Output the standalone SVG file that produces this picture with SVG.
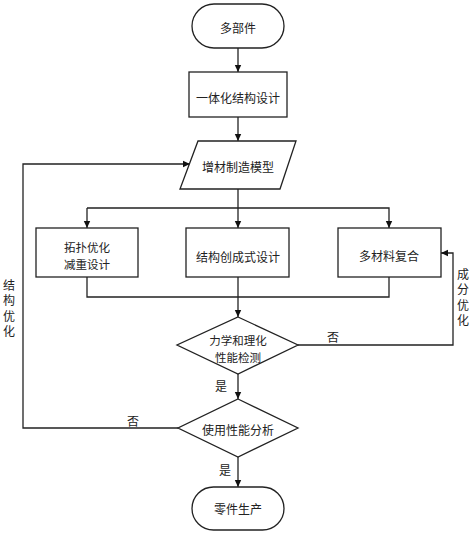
<svg xmlns="http://www.w3.org/2000/svg" width="474" height="535" viewBox="0 0 474 535">
<style>
.s{fill:#fff;stroke:#222;stroke-width:1.3}
.c{fill:none;stroke:#222;stroke-width:1.3}
text{font-family:"Noto Sans CJK SC","Liberation Sans",sans-serif;font-size:12px;fill:#222;text-anchor:middle;dominant-baseline:central}
.v{writing-mode:vertical-rl;letter-spacing:3.5px}
.t{font-size:11.5px}
</style>
<defs>
<marker id="a" markerWidth="8" markerHeight="8" refX="7" refY="4" orient="auto" markerUnits="userSpaceOnUse">
<path d="M0,0.8 L7,4 L0,7.2 Z" fill="#111"/>
</marker>
</defs>
<rect width="474" height="535" fill="#fff"/>
<g id="connectors">
<path class="c" d="M238,48 V72" marker-end="url(#a)"/>
<path class="c" d="M238,117 V141" marker-end="url(#a)"/>
<path class="c" d="M238,189 V228" marker-end="url(#a)"/>
<path class="c" d="M87,208 H389 V228" marker-end="url(#a)"/>
<path class="c" d="M87,208 V228" marker-end="url(#a)"/>
<path class="c" d="M87,277 V297 H389 V277"/>
<path class="c" d="M238,277 V317" marker-end="url(#a)"/>
<path class="c" d="M298,345 H453 V253 H441" marker-end="url(#a)"/>
<path class="c" d="M238,374 V399" marker-end="url(#a)"/>
<path class="c" d="M178,428 H23 V164 H190" marker-end="url(#a)"/>
<path class="c" d="M238,457 V487" marker-end="url(#a)"/>
<text x="333" y="336">否</text>
<text x="221" y="385">是</text>
<text x="133" y="420">否</text>
<text x="225" y="469">是</text>
<text class="v" x="463" y="299">成分优化</text>
<text class="v" x="9" y="310">结构优化</text>
</g>
<g id="start">
<rect class="s" x="192" y="4" width="92" height="44" rx="22"/>
<text x="238" y="27">多部件</text>
</g>
<g id="integrated">
<rect class="s" x="189" y="72" width="98" height="45"/>
<text x="238" y="97">一体化结构设计</text>
</g>
<g id="am-model">
<polygon class="s" points="198,141 296,141 280,189 180,189"/>
<text x="238" y="166">增材制造模型</text>
</g>
<g id="topo">
<rect class="s" x="36" y="228" width="102" height="49"/>
<text class="t" x="87" y="247">拓扑优化</text>
<text class="t" x="87" y="264">减重设计</text>
</g>
<g id="generative">
<rect class="s" x="186" y="228" width="103" height="49"/>
<text x="238" y="256">结构创成式设计</text>
</g>
<g id="multimat">
<rect class="s" x="338" y="228" width="103" height="49"/>
<text x="389" y="255">多材料复合</text>
</g>
<g id="test">
<polygon class="s" points="238,317 298,345 238,374 177,345"/>
<text class="t" x="238" y="340">力学和理化</text>
<text class="t" x="238" y="357">性能检测</text>
</g>
<g id="analysis">
<polygon class="s" points="238,399 298,428 238,457 178,428"/>
<text x="238" y="429">使用性能分析</text>
</g>
<g id="end">
<rect class="s" x="192" y="487" width="92" height="43" rx="21.5"/>
<text x="238" y="508">零件生产</text>
</g>
</svg>
